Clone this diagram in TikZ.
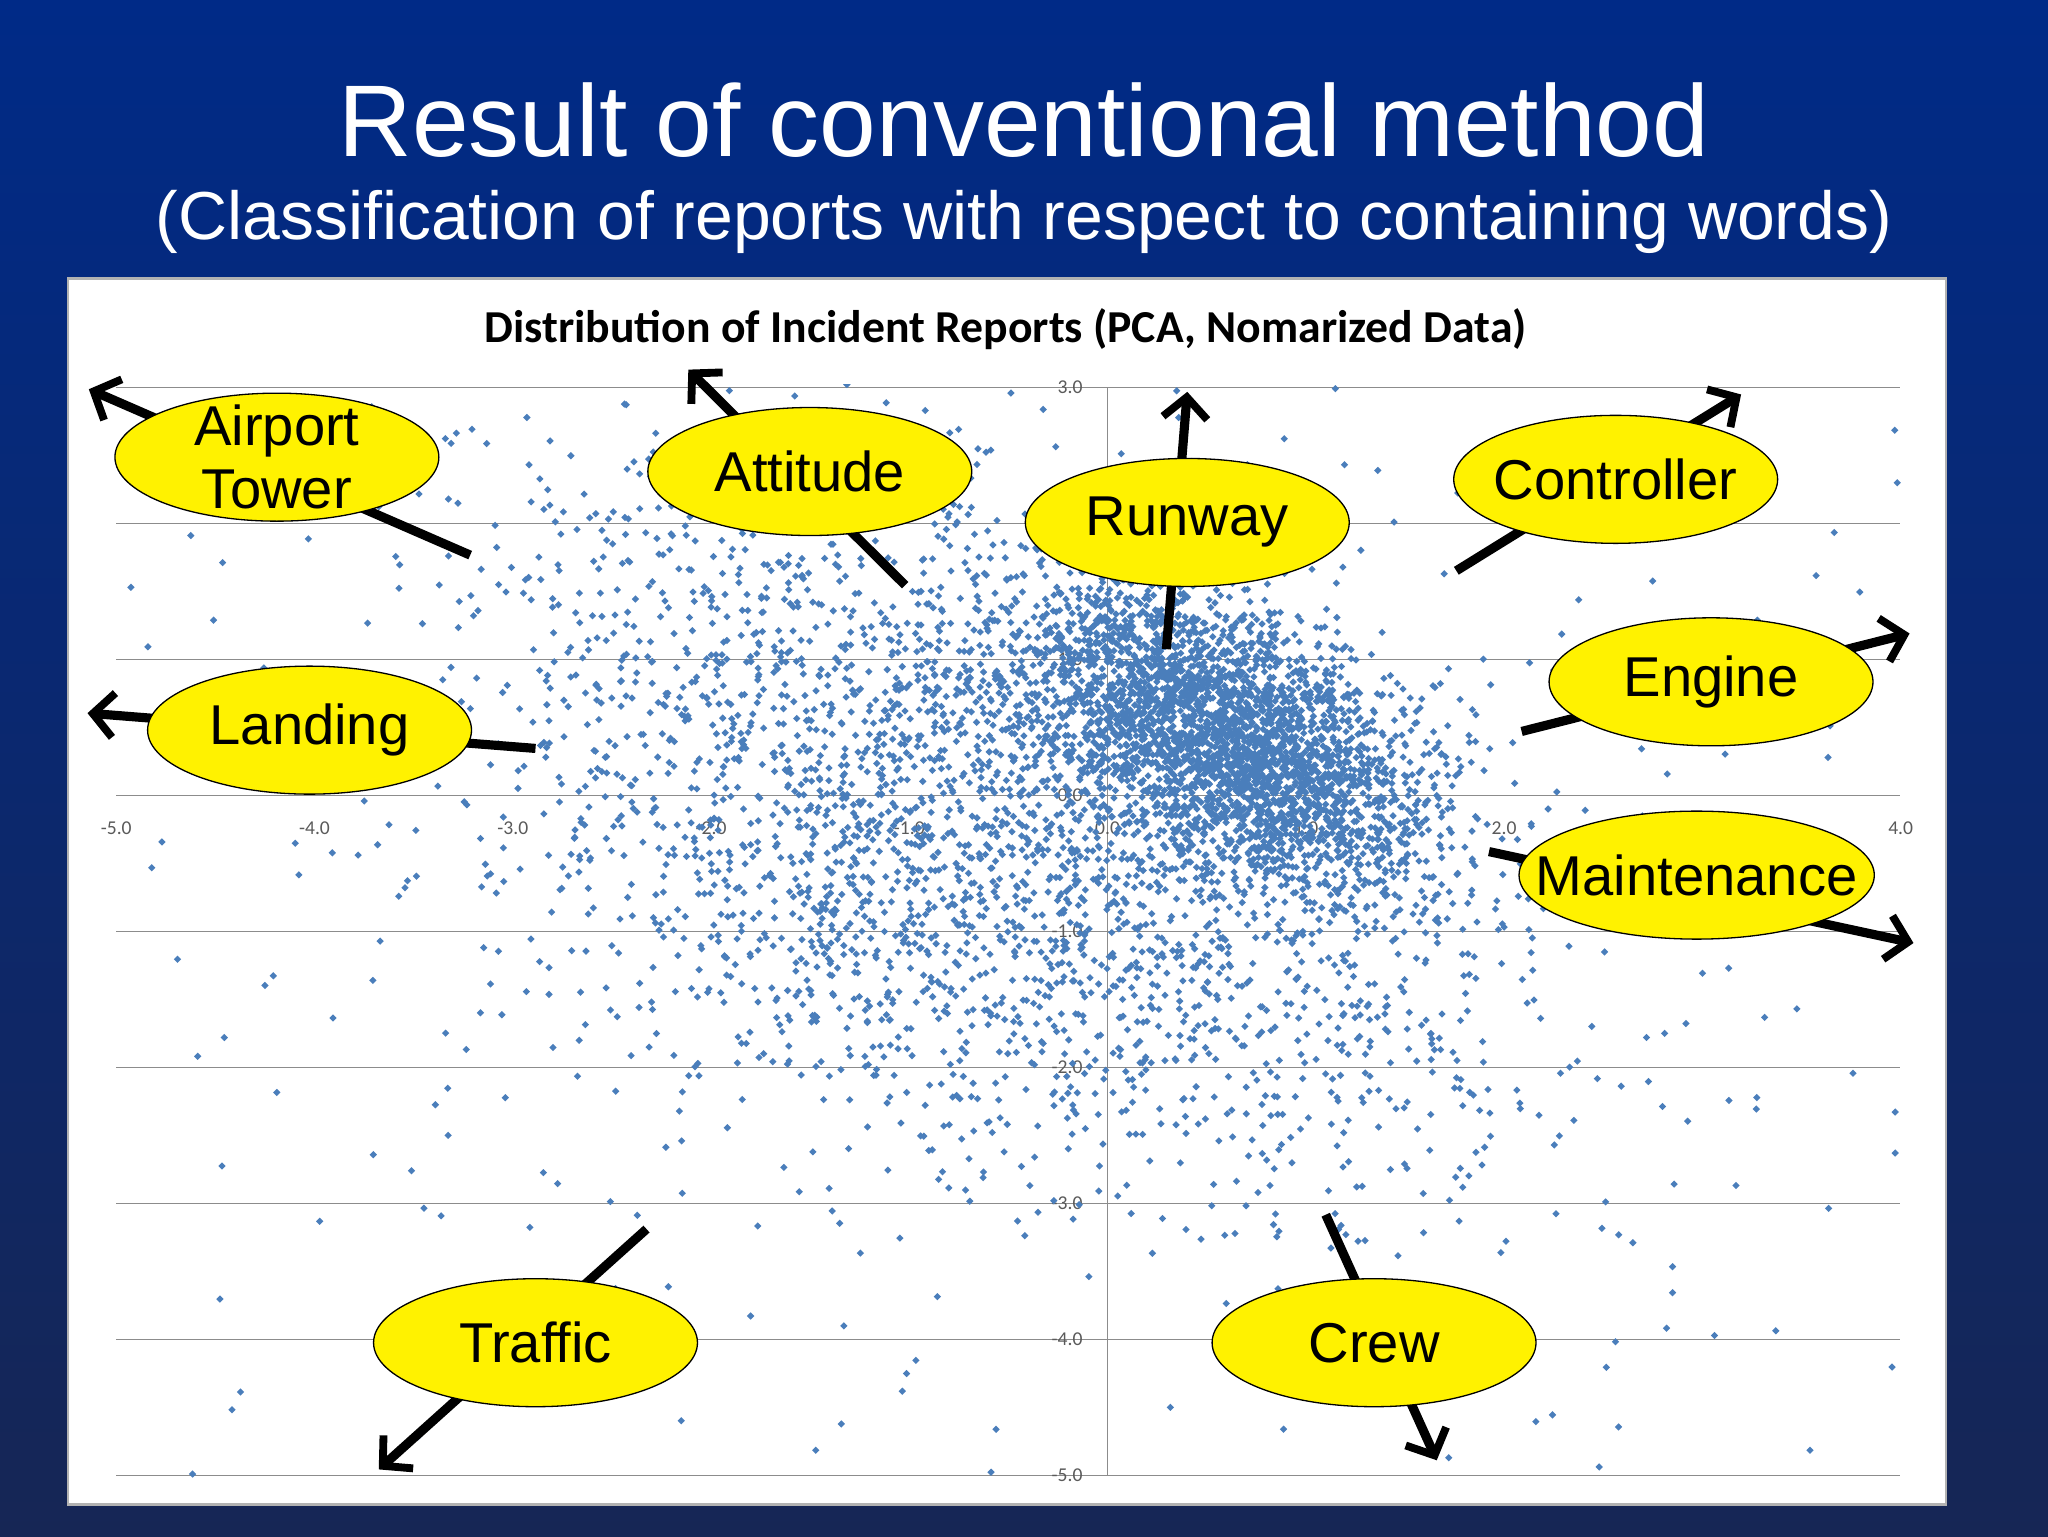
\documentclass[tikz,border=0pt]{standalone}
\usepackage{fontspec}
\setmainfont{Liberation Sans}
\newfontfamily\carfont{Carlito}
\usetikzlibrary{arrows.meta,shapes.geometric}
\definecolor{bgtop}{RGB}{0,42,135}
\definecolor{bgbot}{RGB}{22,38,85}
\definecolor{dotc}{RGB}{74,126,187}
\definecolor{gridc}{RGB}{140,140,140}
\definecolor{lblc}{RGB}{90,90,90}
\tikzset{
 lbl/.style={ellipse,draw=black,line width=1pt,fill=yellow,minimum width=248pt,minimum height=98pt,inner sep=0pt,font=\fontsize{43}{48}\selectfont,align=center},
 dir/.style={line width=7pt,-{Straight Barb[length=16pt,width=34pt,line width=6pt]}},
 tick/.style={font=\carfont\fontsize{15}{16}\selectfont,text=lblc,inner sep=1pt}
}
\begin{document}
\begin{tikzpicture}[x=1pt,y=-1pt]
\shade[top color=bgtop,bottom color=bgbot] (0,0) rectangle (1568,1176);
\useasboundingbox (0,0) rectangle (1568,1176);
\node[text=white,font=\fontsize{78}{80}\selectfont] (t1) at (784,92) {Result of conventional method};
\node[text=white,font=\fontsize{52}{54}\selectfont] (t2) at (784,170) {(Classification of reports with respect to containing words)};
\draw[fill=white,draw=gray!60,line width=2pt] (52,213) rectangle (1490,1152);
\node[font=\carfont\bfseries\fontsize{35}{36}\selectfont] (ct) at (770,252) {Distribution of Incident Reports (PCA, Nomarized Data)};
% grid
\foreach \v in {3,2,...,-5}{
 \draw[gridc,line width=0.8pt] (89,{609-104.1*\v}) -- (1455,{609-104.1*\v});
}
\draw[gridc,line width=0.8pt] (848,297) -- (848,1130);
\foreach \v/\t in {-5/-5.0,-4/-4.0,-3/-3.0,-2/-2.0,-1/-1.0,0/0.0,1/1.0,2/2.0,3/3.0,4/4.0}{
 \node[tick] at ({848+151.8*\v},634) {\t};
}
\foreach \v/\t in {3/3.0,2/2.0,1/1.0,0/0.0,-1/-1.0,-2/-2.0,-3/-3.0,-4/-4.0,-5/-5.0}{
 \node[tick,anchor=east] at (830,{609-104.1*\v}) {\t};
}
% scatter
\pgfmathsetseed{7}
\begin{scope}
\clip (86,294) rectangle (1458,1133);
\foreach \i in {1,...,3000}{
 \pgfmathsetmacro\ga{2*(rnd+rnd+rnd-1.5)}
 \pgfmathsetmacro\gb{2*(rnd+rnd+rnd-1.5)}
 \pgfmathsetmacro\px{848+151.8*(0.6+0.5*\ga)}
 \pgfmathsetmacro\py{609-104.1*(0.45-0.3*\ga+0.45*\gb)}
 \fill[dotc] (\px,\py) +(-2.8,0) -- +(0,-2.8) -- +(2.8,0) -- +(0,2.8) -- cycle;
}
\foreach \i in {1,...,3200}{
 \pgfmathsetmacro\ga{2*(rnd+rnd+rnd-1.5)}
 \pgfmathsetmacro\gb{2*(rnd+rnd+rnd-1.5)}
 \pgfmathsetmacro\px{848+151.8*(-0.6+1.25*\ga)}
 \pgfmathsetmacro\py{609-104.1*(-0.2-0.5*\ga+1.15*\gb)}
 \fill[dotc] (\px,\py) +(-2.8,0) -- +(0,-2.8) -- +(2.8,0) -- +(0,2.8) -- cycle;
}
\foreach \i in {1,...,250}{
 \pgfmathsetmacro\px{89+1366*rnd}
 \pgfmathsetmacro\py{297+833*rnd}
 \fill[dotc] (\px,\py) +(-2.8,0) -- +(0,-2.8) -- +(2.8,0) -- +(0,2.8) -- cycle;
}
\end{scope}
% arrow endpoints
\coordinate (a1s) at (360,425); \coordinate (a1e) at (68,298);
\coordinate (a2s) at (693,448); \coordinate (a2e) at (527,283);
\coordinate (a3s) at (893,497); \coordinate (a3e) at (909,300);
\coordinate (a4s) at (1115,437); \coordinate (a4e) at (1333,302);
\coordinate (a5s) at (1165,560); \coordinate (a5e) at (1462,485);
\coordinate (a6s) at (410,573); \coordinate (a6e) at (67,546);
\coordinate (a7s) at (1140,652); \coordinate (a7e) at (1465,722);
\coordinate (a8s) at (495,941); \coordinate (a8e) at (290,1125);
\coordinate (a9s) at (1015,930); \coordinate (a9e) at (1100,1118);
\foreach \k in {1,...,9}{ \draw[dir] (a\k s) -- (a\k e); }
\node[lbl,inner ysep=-14pt] (n1) at (212,350) {Airport\\Tower};
\node[lbl] (n2) at (620,361) {Attitude};
\node[lbl] (n3) at (909,400) {Runway};
\node[lbl,inner xsep=-20pt] (n4) at (1237,367) {Controller};
\node[lbl] (n5) at (1310,522) {Engine};
\node[lbl] (n6) at (237,559) {Landing};
\node[lbl,inner xsep=-35pt,minimum width=272pt] (n7) at (1299,670) {Maintenance};
\node[lbl] (n8) at (410,1028) {Traffic};
\node[lbl] (n9) at (1052,1028) {Crew};
\end{tikzpicture}
\end{document}
